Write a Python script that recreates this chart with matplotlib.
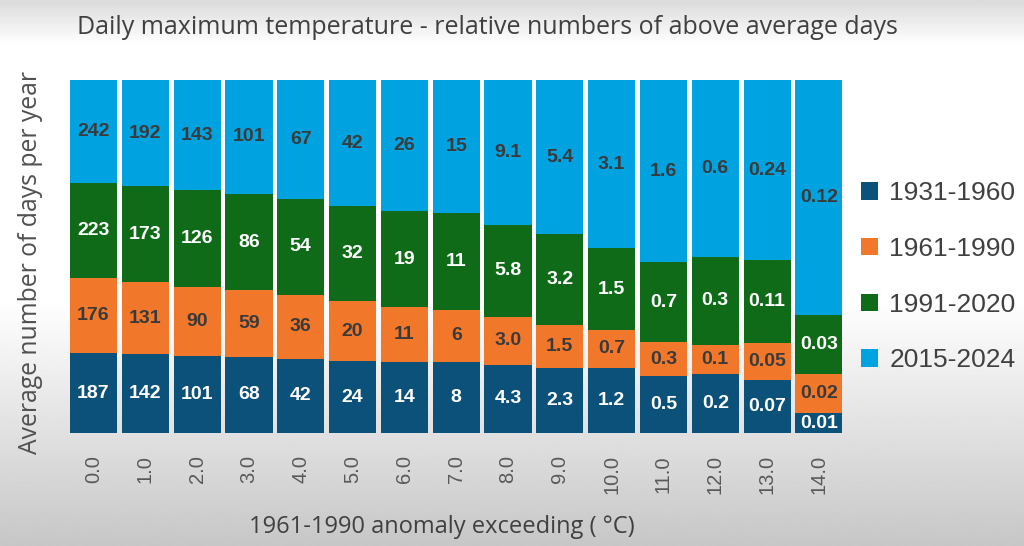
import numpy as np
from matplotlib import pyplot as plt
from matplotlib.patches import Patch

# x categories (anomaly threshold, degC)
thresholds = ["0.0", "1.0", "2.0", "3.0", "4.0", "5.0", "6.0", "7.0",
              "8.0", "9.0", "10.0", "11.0", "12.0", "13.0", "14.0"]

# days per year above threshold, as shown on the bars
p1931 = ["187", "142", "101", "68", "42", "24", "14", "8", "4.3", "2.3", "1.2", "0.5", "0.2", "0.07", "0.01"]
p1961 = ["176", "131", "90", "59", "36", "20", "11", "6", "3.0", "1.5", "0.7", "0.3", "0.1", "0.05", "0.02"]
p1991 = ["223", "173", "126", "86", "54", "32", "19", "11", "5.8", "3.2", "1.5", "0.7", "0.3", "0.11", "0.03"]
p2015 = ["242", "192", "143", "101", "67", "42", "26", "15", "9.1", "5.4", "3.1", "1.6", "0.6", "0.24", "0.12"]

periods = ["1931-1960", "1961-1990", "1991-2020", "2015-2024"]
colors = ["#0b5179", "#f1782a", "#0f6b18", "#00a3e0"]
label_colors = ["white", "#3a3a3a", "white", "#3a3a3a"]

series = [p1931, p1961, p1991, p2015]
vals = np.array([[float(v) for v in s] for s in series])
totals = vals.sum(axis=0)
fracs = vals / totals

fig = plt.figure(figsize=(10.24, 5.46), dpi=100)

# background gradient like the screenshot
bg = fig.add_axes([0, 0, 1, 1], zorder=-1)
h = np.linspace(0, 1, 300)
g = np.interp(h, [0, 0.08, 0.55, 1.0], [0.86, 1.0, 1.0, 0.78])
bg.imshow(g[:, None], aspect="auto", cmap="gray", vmin=0, vmax=1, extent=[0, 1, 0, 1])
bg.axis("off")

ax = fig.add_axes([0.066, 0.207, 0.759, 0.646])
ax.set_facecolor("none")
x = np.arange(len(thresholds))
bottom = np.zeros(len(thresholds))
for i in range(4):
    ax.bar(x, fracs[i], 0.91, bottom=bottom, color=colors[i], edgecolor="none")
    for j in range(len(thresholds)):
        ax.text(x[j], bottom[j] + fracs[i][j] / 2, series[i][j], ha="center", va="center",
                fontsize=14, fontweight="bold", color=label_colors[i], family="Liberation Sans")
    bottom += fracs[i]

ax.set_xlim(-0.5, len(thresholds) - 0.5)
ax.set_ylim(0, 1)
for s in ax.spines.values():
    s.set_visible(False)
ax.set_yticks([])
ax.set_xticks(x)
ax.set_xticklabels(thresholds, rotation=90, fontsize=14.5, color="#595959", family="Liberation Sans")
ax.tick_params(axis="x", length=0, pad=16)

fig.text(0.431, 0.035, "1961-1990 anomaly exceeding ( °C)", ha="center", va="center",
         fontsize=17, color="#404040", family="Open Sans")
fig.text(0.03, 0.52, "Average number of days per year", rotation=90, ha="center", va="center",
         fontsize=17.8, color="#505050", family="Open Sans")
fig.text(0.476, 0.95, "Daily maximum temperature - relative numbers of above average days",
         ha="center", va="center", fontsize=18, color="#404040", family="Open Sans")

handles = [Patch(facecolor=c, edgecolor="none") for c in colors]
leg = fig.legend(handles, periods, loc="center left", bbox_to_anchor=(0.841, 0.493),
                 frameon=False, prop={"family": "Liberation Sans", "size": 19},
                 borderpad=0, borderaxespad=0,
                 handlelength=0.62, handleheight=0.62, handletextpad=0.45, labelspacing=1.2)
for t in leg.get_texts():
    t.set_color("#404040")

plt.savefig("out.png", dpi=100)
